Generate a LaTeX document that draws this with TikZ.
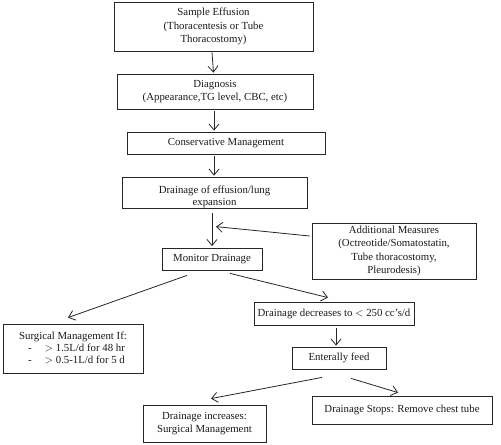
\documentclass[tikz,border=0pt]{standalone}
\usepackage{fontspec}
\setmainfont{Liberation Serif}
\usetikzlibrary{arrows.meta}
\tikzset{
  box/.style={draw=black!85, line width=0.8bp, align=center, inner sep=0pt, font=\fontsize{10.8bp}{13.5bp}\selectfont, text=black!90},
  arr/.style={draw=black!85, line width=0.8bp, -{Straight Barb[length=6bp,width=10bp,line width=0.8bp]}},
}
\begin{document}
\begin{tikzpicture}[x=1bp,y=-1bp]
\useasboundingbox (0,0) rectangle (501,445);
\node[box, minimum width=199bp, minimum height=49bp] (b1) at (213.5,26.5) {Sample Effusion\\(Thoracentesis or Tube\\Thoracostomy)};
\node[box, minimum width=196bp, minimum height=35bp] (b2) at (215,91.5) {Diagnosis\\(Appearance,TG level, CBC, etc)};
\node[box, minimum width=198bp, minimum height=22bp] (b3) at (226,143) {Conservative Management};
\node[box, minimum width=185bp, minimum height=31bp, text depth=0pt] (b4) at (214.5,192.5) {\raisebox{-6bp}{\shortstack{Drainage of effusion/lung\\expansion}}};
\node[box, minimum width=164bp, minimum height=56bp] (add) at (394,251) {Additional Measures\\(Octreotide/Somatostatin,\\Tube thoracostomy,\\Pleurodesis)};
\node[box, minimum width=100bp, minimum height=22bp] (mon) at (212,259) {Monitor Drainage};
\node[box, minimum width=140bp, minimum height=49bp] (surg) at (73,348.5) {\begin{tabular}{@{}l@{}}Surgical Management If:\\[-1.5bp] \hspace*{9bp}-\hspace{13bp}$>$ 1.5L/d for 48 hr\\[-1.5bp] \hspace*{9bp}-\hspace{13bp}$>$ 0.5-1L/d for 5 d\end{tabular}};
\node[box, minimum width=160bp, minimum height=23bp] (dec) at (334,313.5) {Drainage decreases to $<$ 250 cc's/d};
\node[box, minimum width=94bp, minimum height=22bp] (ent) at (339,358) {Enterally feed};
\node[box, minimum width=123bp, minimum height=37bp] (inc) at (204.5,423.5) {Drainage increases:\\Surgical Management};
\node[box, minimum width=180bp, minimum height=28bp] (stop) at (402,410) {Drainage Stops: Remove chest tube};

\draw[arr] ([shift={(-1.5,1)}]b1.south) -- ([shift={(-1.5,-1)}]b2.north);
\draw[arr] ([shift={(-1,2)}]b2.south) -- ([shift={(-12,-1)}]b3.north);
\draw[arr] ([shift={(-12,2)}]b3.south) -- ([shift={(-0.5,-1)}]b4.north);
\coordinate (j) at ([shift={(-2.5,5)}]b4.south);
\draw[arr] (j) -- ([shift={(0,-1.5)}]mon.north);
\draw[arr] ([shift={(-2,-15)}]add.west) -- ([shift={(4,-21)}]mon.north);
\draw[arr] ([shift={(-25,5)}]mon.south) -- ([shift={(-5,-6)}]surg.north);
\draw[arr] ([shift={(18,3)}]mon.south) -- ([shift={(-6,-4)}]dec.north);
\draw[arr] ([shift={(2,2.5)}]dec.south) -- ([shift={(-3,-1)}]ent.north);
\draw[arr] ([shift={(-17,8)}]ent.south) -- ([shift={(6.5,-6)}]inc.north);
\draw[arr] ([shift={(12,9)}]ent.south) -- ([shift={(-4,-3)}]stop.north);
\end{tikzpicture}
\end{document}
